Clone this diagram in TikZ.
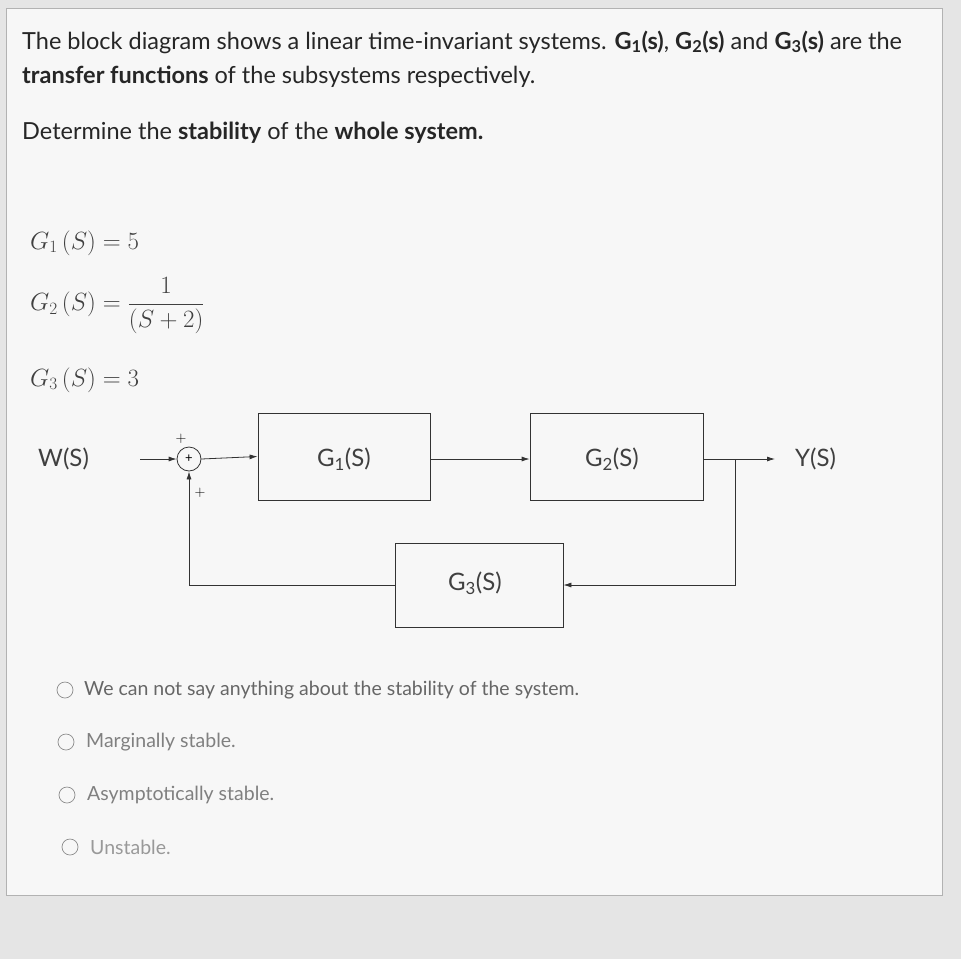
\documentclass[tikz,border=0pt]{standalone}
\usepackage{fontspec}
\setsansfont{Lato}
\usetikzlibrary{arrows.meta}
\begin{document}
\begin{tikzpicture}[x=1pt,y=-1pt,
  blk/.style={draw=black!80,line width=0.8pt},
  con/.style={draw=black!80,line width=0.8pt},
  arr/.style={con,-{Latex[length=8pt,width=5pt]}},
  txt/.style={font=\sffamily\fontsize{23.5}{28}\selectfont,text=black!85,anchor=west,inner sep=0},
  lbl/.style={font=\sffamily\fontsize{24}{28}\selectfont,text=black!75,inner sep=0},
  eq/.style={font=\fontsize{27}{32}\selectfont,text=black!75,anchor=west,inner sep=0},
  opt/.style={font=\sffamily\fontsize{19.5}{23}\selectfont,anchor=west,inner sep=0},
  radio/.style={circle,draw=black!45,line width=0.7pt,minimum size=16pt,inner sep=0}]
\useasboundingbox (0,0) rectangle (961,959);
\fill[black!10] (0,0) rectangle (961,959);
\draw[black!30,fill=black!3] (6,8) rectangle (942,895);
\node[txt] (t1) at (22,42) {The block diagram shows a linear time-invariant systems. \textbf{G\textsubscript{1}(s)}, \textbf{G\textsubscript{2}(s)} and \textbf{G\textsubscript{3}(s)} are the};
\node[txt] (t2) at (22,77) {\textbf{transfer functions} of the subsystems respectively.};
\node[txt] (t3) at (22,133) {Determine the \textbf{stability} of the \textbf{whole system.}};
\node[eq] (e1) at (30,243) {$G_1\,(S)=5$};
\node[eq] (e2) at (30,306) {$G_2\,(S)=\displaystyle\frac{1}{(S+2)}$};
\node[eq] (e3) at (30,380) {$G_3\,(S)=3$};
\node[blk,minimum width=172pt,minimum height=87pt] (g1) at (344,456.5) {};
\node[lbl] at (344,459) {G\textsubscript{1}(S)};
\node[blk,minimum width=173pt,minimum height=87pt] (g2) at (616.5,456.5) {};
\node[lbl] at (612,459) {G\textsubscript{2}(S)};
\node[blk,minimum width=168pt,minimum height=84pt] (g3) at (479,585) {};
\node[lbl] at (475,583) {G\textsubscript{3}(S)};
\node[circle,draw=black!80,line width=0.8pt,minimum size=24pt,inner sep=0,font=\sffamily\fontsize{13}{14}\selectfont] (s) at (189,459) {+};
\node[lbl,anchor=west] (w) at (38,459) {W(S)};
\node[lbl,anchor=west] (y) at (795,459) {Y(S)};
\node[font=\fontsize{15}{16}\selectfont] at (181,439) {+};
\node[font=\fontsize{15}{16}\selectfont] at (200,493) {+};
\coordinate (win) at (140,459);
\coordinate (yout) at (775,459);
\coordinate (br) at (735,459);
\coordinate (bd) at (735,585);
\coordinate (bl) at (189,585);
\draw[arr] (win) -- (s.west);
\draw[arr] (s.east) -- (g1.west);
\draw[arr] (g1.east|-s) -- (g2.west|-s);
\draw[arr] (g2.east|-s) -- (yout);
\draw[arr] (br) -- (bd) -- (g3.east);
\draw[arr] (g3.west) -- (bl) -- (s.south);
\node[radio] (r1) at (65,690) {};
\node[opt,text=black!60] at (84,690) {We can not say anything about the stability of the system.};
\node[radio] (r2) at (66,742) {};
\node[opt,text=black!50] at (86,742) {Marginally stable.};
\node[radio] (r3) at (67,795) {};
\node[opt,text=black!50] at (87,795) {Asymptotically stable.};
\node[radio] (r4) at (70,847) {};
\node[opt,text=black!40] at (90,847) {Unstable.};
\end{tikzpicture}
\end{document}
